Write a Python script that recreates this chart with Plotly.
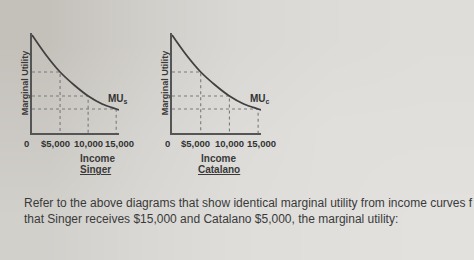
import plotly.graph_objects as go

# ---- data ----
income = [0, 2500, 5000, 7500, 10000, 12500, 15000, 15500]
mu = [98, 78, 61, 48, 37, 29, 24, 23]
marked_income = [5000, 10000, 15000]
marked_mu = [61, 37, 24]
tick_vals = [0, 5000, 10000, 15000]
tick_text = ["0", "$5,000", "10,000", "15,000"]
panels = ["Singer", "Catalano"]
curve_labels = ["MU<sub>s</sub>", "MU<sub>c</sub>"]
y_title = "Marginal Utility"
x_title = "Income"
question = ["Refer to the above diagrams that show identical marginal utility from income curves f",
            "that Singer receives $15,000 and Catalano $5,000, the marginal utility:"]

W, H = 474, 260
fig = go.Figure()

# background photo-like gradient (on the first, full-page axes so it sits behind)
bg_z = [[0.0, 0.35, 0.6, 0.7, 0.75],
        [0.2, 0.5, 0.7, 0.8, 0.8],
        [0.4, 0.6, 0.75, 0.8, 0.85]]
fig.add_trace(go.Heatmap(z=bg_z, xaxis="x", yaxis="y", zsmooth="best", showscale=False,
                         colorscale=[[0, "#c4c1bb"], [1, "#e2e1de"]], hoverinfo="skip"))

ink = "#404040"
dots = "#7a7a7a"
doms = [[32 / W, 119 / W], [172 / W, 261 / W]]
ydom = [(H - 133) / H, (H - 33) / H]
xas = ["x2", "x3"]
yas = ["y2", "y3"]
title_axes = ["y4", "y5"]

for i in range(2):
    xa, ya = xas[i], yas[i]
    for xv, yv in zip(marked_income, marked_mu):
        fig.add_trace(go.Scatter(x=[0, xv, xv], y=[yv, yv, 0], mode="lines", xaxis=xa, yaxis=ya,
                                 line=dict(color=dots, width=1.1, dash="dot"), showlegend=False,
                                 hoverinfo="skip"))
    fig.add_trace(go.Scatter(x=income, y=mu, mode="lines", line=dict(color=ink, width=1.8, shape="spline"),
                             xaxis=xa, yaxis=ya, showlegend=False))
    # invisible carrier so the free title axis gets drawn
    fig.add_trace(go.Scatter(x=[income[0]], y=[mu[0]], mode="markers", marker=dict(opacity=0),
                             xaxis=xa, yaxis=title_axes[i], showlegend=False, hoverinfo="skip"))

axis_common = dict(showgrid=False, zeroline=False, showline=True, linecolor="#555555", linewidth=1.5,
                   ticks="", showticklabels=False)
title_axis = dict(showgrid=False, zeroline=False, showline=False, ticks="", showticklabels=False,
                  range=[0, 100], anchor="free", automargin=False,
                  title=dict(text="<b>%s</b>" % y_title, font=dict(size=9, color="#3a3a3a"), standoff=4))
fig.update_layout(
    width=W, height=H, margin=dict(l=0, r=0, t=0, b=0),
    paper_bgcolor="#d8d7d4", plot_bgcolor="rgba(0,0,0,0)",
    xaxis=dict(domain=[0, 1], visible=False, range=[-0.5, 4.5], fixedrange=True),
    yaxis=dict(domain=[0, 1], visible=False, range=[2.5, -0.5], fixedrange=True),
    xaxis2=dict(domain=doms[0], range=[0, 15500], anchor="y2", **axis_common),
    yaxis2=dict(domain=ydom, range=[0, 100], anchor="x2", **axis_common),
    xaxis3=dict(domain=doms[1], range=[0, 15500], anchor="y3", **axis_common),
    yaxis3=dict(domain=ydom, range=[0, 100], anchor="x3", **axis_common),
    yaxis4=dict(overlaying="y2", position=(23 + 13) / W, **title_axis),
    yaxis5=dict(overlaying="y3", position=(163 + 13) / W, **title_axis),
    font=dict(family="Liberation Sans, Arial, sans-serif", color=ink),
)

ann = []
shifts = {0: -5, 5000: -5, 10000: 0, 15000: 3}
for i in range(2):
    xref, yref = xas[i], yas[i]
    d0, d1 = doms[i]
    cx = (d0 + d1) / 2 + (2 / W)
    for tv, tt in zip(tick_vals, tick_text):
        ann.append(dict(x=tv, y=(H - 143) / H, xref=xref, yref="paper", text="<b>%s</b>" % tt,
                        showarrow=False, xshift=shifts[tv], font=dict(size=9.5, color="#333333")))
    ann.append(dict(x=cx, y=(H - 158) / H, xref="paper", yref="paper", text="<b>%s</b>" % x_title,
                    showarrow=False, font=dict(size=10, color="#3a3a3a")))
    ann.append(dict(x=cx, y=(H - 177) / H, xref="paper", yref="paper", text="<b><u>%s</u></b>" % panels[i],
                    showarrow=False, font=dict(size=10, color="#3a3a3a")))
    ann.append(dict(x=15300, y=mu[-1], xref=xref, yref=yref, text="<b>%s</b>" % curve_labels[i],
                    showarrow=False, yshift=11, font=dict(size=10, color="#333333")))

for j, line in enumerate(question):
    ann.append(dict(x=22 / W, y=(H - 212 - 16 * j) / H, xref="paper", yref="paper", text=line,
                    xanchor="left", showarrow=False, font=dict(size=12, color="#3a3a3a")))

fig.update_layout(annotations=ann)
fig.write_html("out.html")
